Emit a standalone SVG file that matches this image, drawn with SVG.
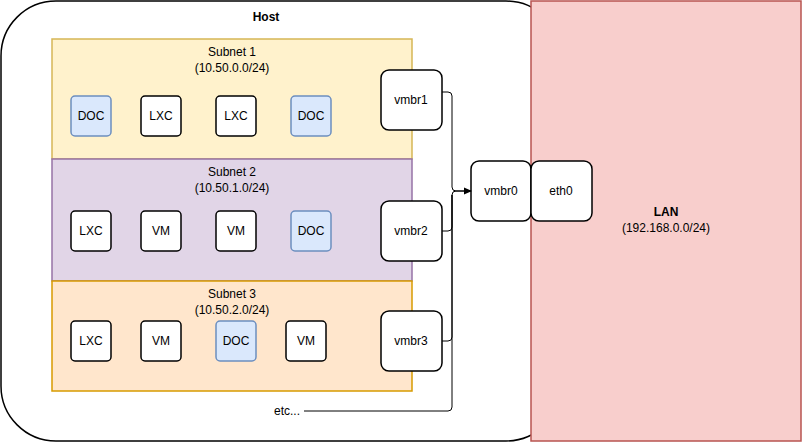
<svg xmlns="http://www.w3.org/2000/svg" width="802" height="442" viewBox="0 0 802 442">
<style>
text{font-family:"Liberation Sans",Arial,sans-serif;font-size:12px;text-anchor:middle;fill:#000}
.b{fill:#fff;stroke:#000;stroke-width:1.5}
.d{fill:#dae8fc;stroke:#6c8ebf;stroke-width:1.5}
.c{fill:none;stroke:#000;stroke-width:1}
</style>
<defs><marker id="a" markerWidth="8" markerHeight="8" refX="7" refY="4" orient="auto" markerUnits="userSpaceOnUse"><path d="M0,0.5 L8,4 L0,7.5 Z" fill="#000"/></marker></defs>
<g id="host"><rect x="1" y="1" width="560" height="440" rx="55" fill="#fff" stroke="#000" stroke-width="1.5"/><text x="266" y="21" font-weight="bold">Host</text></g>
<g id="lan"><rect x="531" y="1" width="270" height="440" fill="#f8cecc" stroke="#b85450" stroke-width="1.5"/><text x="666" y="216" font-weight="bold">LAN</text><text x="666" y="232">(192.168.0.0/24)</text></g>
<g id="subnet1"><rect x="52" y="39" width="360" height="120" fill="#fff2cc" stroke="#d6b656" stroke-width="1.5"/><text x="232" y="56">Subnet 1</text><text x="232" y="72">(10.50.0.0/24)</text></g>
<g id="subnet2"><rect x="52" y="159" width="360" height="122" fill="#e1d5e7" stroke="#9673a6" stroke-width="1.5"/><text x="232" y="176">Subnet 2</text><text x="232" y="192">(10.50.1.0/24)</text></g>
<g id="subnet3"><rect x="52" y="281" width="360" height="110" fill="#ffe6cc" stroke="#d79b00" stroke-width="1.5"/><text x="232" y="298">Subnet 3</text><text x="232" y="314">(10.50.2.0/24)</text></g>
<g id="n1"><rect class="d" x="71" y="96" width="40" height="40" rx="4"/><text x="91" y="120">DOC</text></g>
<g id="n2"><rect class="b" x="141" y="96" width="40" height="40" rx="4"/><text x="161" y="120">LXC</text></g>
<g id="n3"><rect class="b" x="216" y="96" width="40" height="40" rx="4"/><text x="236" y="120">LXC</text></g>
<g id="n4"><rect class="d" x="291" y="96" width="40" height="40" rx="4"/><text x="311" y="120">DOC</text></g>
<g id="n5"><rect class="b" x="71" y="211" width="40" height="40" rx="4"/><text x="91" y="235">LXC</text></g>
<g id="n6"><rect class="b" x="141" y="211" width="40" height="40" rx="4"/><text x="161" y="235">VM</text></g>
<g id="n7"><rect class="b" x="216" y="211" width="40" height="40" rx="4"/><text x="236" y="235">VM</text></g>
<g id="n8"><rect class="d" x="291" y="211" width="40" height="40" rx="4"/><text x="311" y="235">DOC</text></g>
<g id="n9"><rect class="b" x="71" y="321" width="40" height="40" rx="4"/><text x="91" y="345">LXC</text></g>
<g id="n10"><rect class="b" x="141" y="321" width="40" height="40" rx="4"/><text x="161" y="345">VM</text></g>
<g id="n11"><rect class="d" x="216" y="321" width="40" height="40" rx="4"/><text x="236" y="345">DOC</text></g>
<g id="n12"><rect class="b" x="286" y="321" width="40" height="40" rx="4"/><text x="306" y="345">VM</text></g>
<g id="vmbr1"><rect class="b" x="381" y="70" width="61" height="60" rx="8"/><text x="411" y="104">vmbr1</text></g>
<g id="vmbr2"><rect class="b" x="381" y="201" width="61" height="60" rx="8"/><text x="411" y="235">vmbr2</text></g>
<g id="vmbr3"><rect class="b" x="381" y="311" width="61" height="60" rx="8"/><text x="411" y="345">vmbr3</text></g>
<g id="vmbr0"><rect class="b" x="471" y="161" width="60" height="60" rx="8"/><text x="501" y="195">vmbr0</text></g>
<g id="eth0"><rect class="b" x="531" y="161" width="61" height="60" rx="8"/><text x="561" y="195">eth0</text></g>
<g id="etc"><text x="287" y="415">etc...</text></g>
<g id="connectors">
<path class="c" d="M442,92 H448 Q452,92 452,96 V187 Q452,191 456,191 H471" marker-end="url(#a)"/>
<path class="c" d="M442,231 H448 Q452,231 452,227 V195 Q452,191 456,191 H471"/>
<path class="c" d="M442,341 H448 Q452,341 452,337 V195"/>
<path class="c" d="M304,411 H448 Q452,411 452,407 V195"/>
</g>
</svg>
